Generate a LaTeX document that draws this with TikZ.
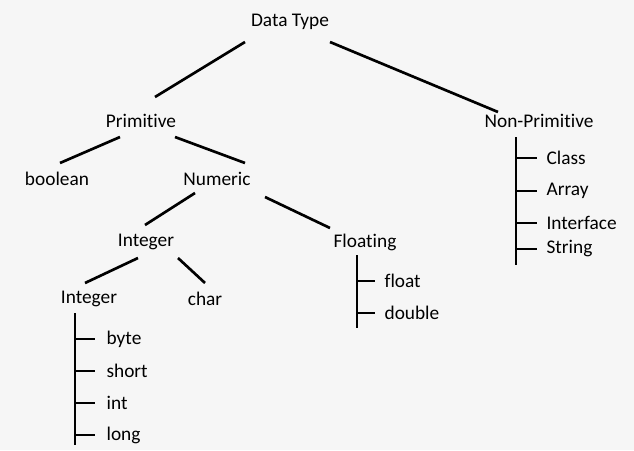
\documentclass[tikz,border=0pt]{standalone}
\usepackage{fontspec}
\setmainfont[Ligatures=NoCommon]{Carlito}
\usetikzlibrary{calc,positioning}
\definecolor{bgcol}{RGB}{246,246,246}
\tikzset{
  lbl/.style={font=\fontsize{14.5}{16}\selectfont, inner sep=1pt},
  leaf/.style={lbl, anchor=west},
  edge/.style={line width=2pt, black}
}
\begin{document}
\begin{tikzpicture}[x=0.75pt,y=-0.75pt]

    \fill[bgcol] (0,0) rectangle (634,450);

    % tree nodes
    \node[lbl] (dt)   at (290,22)  {Data Type};
    \node[lbl] (prim) at (141,121) {Primitive};
    \node[lbl] (nonp) at (539,121) {Non-Primitive};
    \node[lbl] (bool) at (57,179)  {boolean};
    \node[lbl] (num)  at (217,179) {Numeric};
    \node[lbl] (intg) at (146,242) {Integer};
    \node[lbl] (flt)  at (365,242) {Floating};
    \node[lbl] (ints) at (89,299)  {Integer};
    \node[lbl] (chr)  at (205,299) {char};

    \draw[edge] ($(dt)+(-45,20)$) -- ($(prim)+(14,-24)$);
    \draw[edge] ($(dt)+(40,20)$) -- ($(nonp)+(-41,-9)$);
    \draw[edge] ($(prim)+(-21,16)$) -- ($(bool)+(3,-16)$);
    \draw[edge] ($(prim)+(34,16)$) -- ($(num)+(28,-16)$);
    \draw[edge] ($(num)+(-22,14)$) -- ($(intg)+(-1,-17)$);
    \draw[edge] ($(num)+(48,18)$) -- ($(flt)+(-35,-14)$);
    \draw[edge] ($(intg)+(-8,16)$) -- ($(ints)+(-4,-16)$);
    \draw[edge] ($(intg)+(32,16)$) -- ($(chr)+(0,-16)$);

    % lists
    \draw[edge] ($(ints)+(-14,14)$) coordinate (ibar) -- ++(0,132);
    \foreach \t [count=\i] in {byte,short,int,long}{
       \node[leaf] (i\i) at (105,307+32*\i) {\t};
       \draw[edge] (ibar |- i\i) -- ++(20,0);
    }

    \draw[edge] ($(flt)+(-8,13)$) coordinate (fbar) -- ++(0,73);
    \foreach \t [count=\i] in {float,double}{
       \node[leaf] (f\i) at (383,249+32*\i) {\t};
       \draw[edge] (fbar |- f\i) -- ++(18,0);
    }

    \draw[edge] ($(nonp)+(-23,16)$) coordinate (nbar) -- ++(0,128);
    \foreach \t/\y [count=\i] in {Class/158,Array/191,Interface/223,String/249}{
       \node[leaf] (n\i) at (545,\y) {\t};
       \draw[edge] (nbar |- n\i) -- ++(21,0);
    }

\end{tikzpicture}
\end{document}
